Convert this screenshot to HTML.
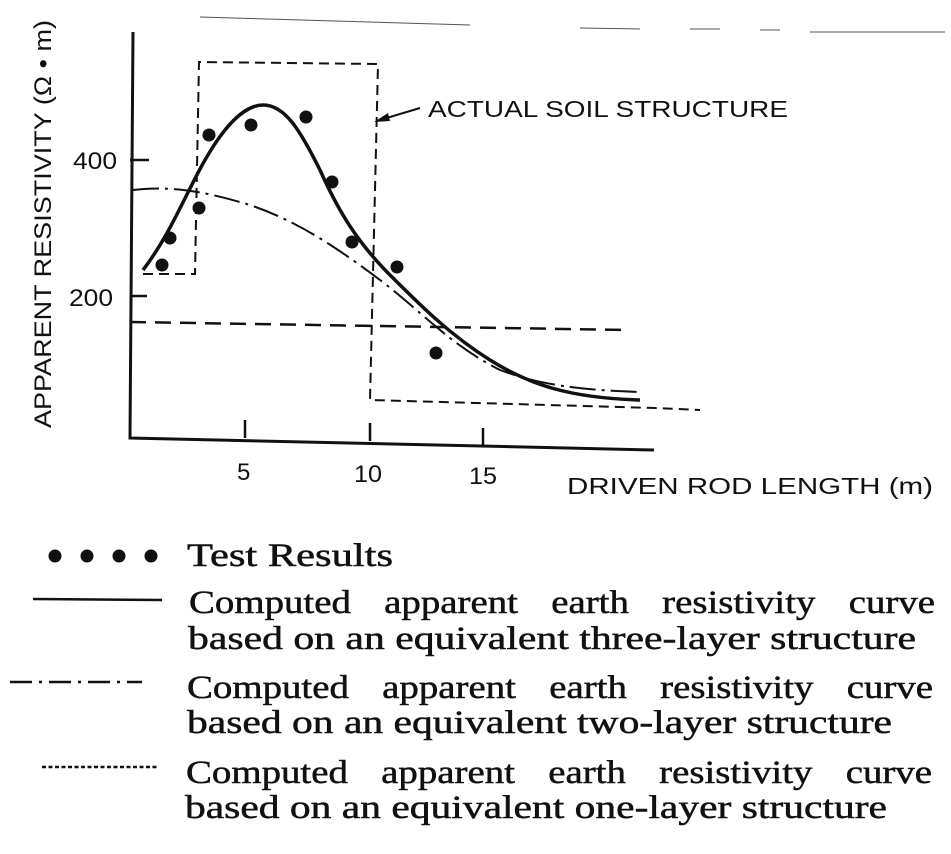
<!DOCTYPE html>
<html><head><meta charset="utf-8"><style>
html,body{margin:0;padding:0;background:#fff;}
svg{display:block;}
.s{font-family:"Liberation Sans",sans-serif;fill:#111;}
.r{font-family:"Liberation Serif",serif;fill:#111;font-size:33px;stroke:#111;stroke-width:0.5;}
</style></head><body>
<svg width="951" height="854" viewBox="0 0 951 854" xmlns="http://www.w3.org/2000/svg">
<path d="M200 17 L470 25 M580 28 L640 29 M690 29 L720 29 M760 30 L780 30 M810 32 L945 32" stroke="#555" stroke-width="1" fill="none"/>
<path d="M133 32 L130 438 L654 450" stroke="#111" stroke-width="3" fill="none"/>
<path d="M130 160 L149 160 M130 296 L147 296" stroke="#111" stroke-width="2.5"/>
<path d="M245 420 L245 438 M370 423 L370 441 M483 428 L483 446" stroke="#111" stroke-width="2.5"/>
<text class="s" x="73" y="169" font-size="24" textLength="44" lengthAdjust="spacingAndGlyphs">400</text>
<text class="s" x="69" y="306" font-size="24" textLength="44" lengthAdjust="spacingAndGlyphs">200</text>
<text class="s" x="237" y="480" font-size="24">5</text>
<text class="s" x="354" y="482" font-size="24" textLength="28" lengthAdjust="spacingAndGlyphs">10</text>
<text class="s" x="469" y="484" font-size="24" textLength="28" lengthAdjust="spacingAndGlyphs">15</text>
<text class="s" x="567" y="494" font-size="23" textLength="366" lengthAdjust="spacingAndGlyphs">DRIVEN ROD LENGTH (m)</text>
<text class="s" font-size="24" transform="translate(51,428) rotate(-90)" textLength="408" lengthAdjust="spacingAndGlyphs">APPARENT RESISTIVITY (Ω • m)</text>
<path d="M143 274 L195 274 L199 62 L378 64 L370 400 L655 408 L700 410" stroke="#111" stroke-width="2" fill="none" stroke-dasharray="10,6"/>
<path d="M130 322 L628 330" stroke="#111" stroke-width="2.5" fill="none" stroke-dasharray="16,9"/>
<path d="M133 190 C170 186 200 190 250 205 C300 222 340 250 380 280 C420 310 450 345 500 370 C540 385 580 390 640 392" stroke="#111" stroke-width="2" fill="none" stroke-dasharray="26,6,3,6"/>
<path d="M143 270 C170 235 185 195 205 160 C225 125 245 105 263 105 C285 105 300 130 320 170 C340 215 360 245 390 275 C420 305 450 335 490 360 C530 385 570 398 640 400" stroke="#111" stroke-width="3.5" fill="none"/>
<g fill="#111">
<circle cx="162" cy="265" r="6.5"/><circle cx="170" cy="238" r="6.5"/><circle cx="199" cy="208" r="6.5"/>
<circle cx="209" cy="135" r="6.5"/><circle cx="251" cy="125" r="6.5"/><circle cx="306" cy="117" r="6.5"/>
<circle cx="332" cy="182" r="6.5"/><circle cx="352" cy="242" r="6.5"/><circle cx="397" cy="267" r="6.5"/>
<circle cx="436" cy="353" r="6.5"/>
</g>
<path d="M420 108 L380 120" stroke="#111" stroke-width="2"/>
<path d="M374 122 L388 113 L390 121 Z" fill="#111"/>
<text class="s" x="428" y="117" font-size="23" textLength="360" lengthAdjust="spacingAndGlyphs">ACTUAL SOIL STRUCTURE</text>
<g fill="#111"><circle cx="55" cy="556" r="6.5"/><circle cx="87" cy="556" r="6.5"/><circle cx="119" cy="556" r="6.5"/><circle cx="151" cy="556" r="6.5"/></g>
<path d="M33 599 L162 600" stroke="#111" stroke-width="2.5"/>
<path d="M10 682 L142 682" stroke="#111" stroke-width="2.5" stroke-dasharray="22,7,3,7"/>
<path d="M42 767 L157 767" stroke="#111" stroke-width="2.5" stroke-dasharray="4,2.5"/>
<text class="r" x="187" y="566" textLength="206" lengthAdjust="spacingAndGlyphs">Test Results</text>
<text class="r" x="189" y="613" textLength="746" lengthAdjust="spacingAndGlyphs" word-spacing="20">Computed apparent earth resistivity curve</text>
<text class="r" x="188" y="649" textLength="728" lengthAdjust="spacingAndGlyphs">based on an equivalent three-layer structure</text>
<text class="r" x="187" y="698" textLength="746" lengthAdjust="spacingAndGlyphs" word-spacing="20">Computed apparent earth resistivity curve</text>
<text class="r" x="187" y="733" textLength="705" lengthAdjust="spacingAndGlyphs">based on an equivalent two-layer structure</text>
<text class="r" x="186" y="783" textLength="746" lengthAdjust="spacingAndGlyphs" word-spacing="20">Computed apparent earth resistivity curve</text>
<text class="r" x="185" y="818" textLength="702" lengthAdjust="spacingAndGlyphs">based on an equivalent one-layer structure</text>
</svg>
</body></html>
